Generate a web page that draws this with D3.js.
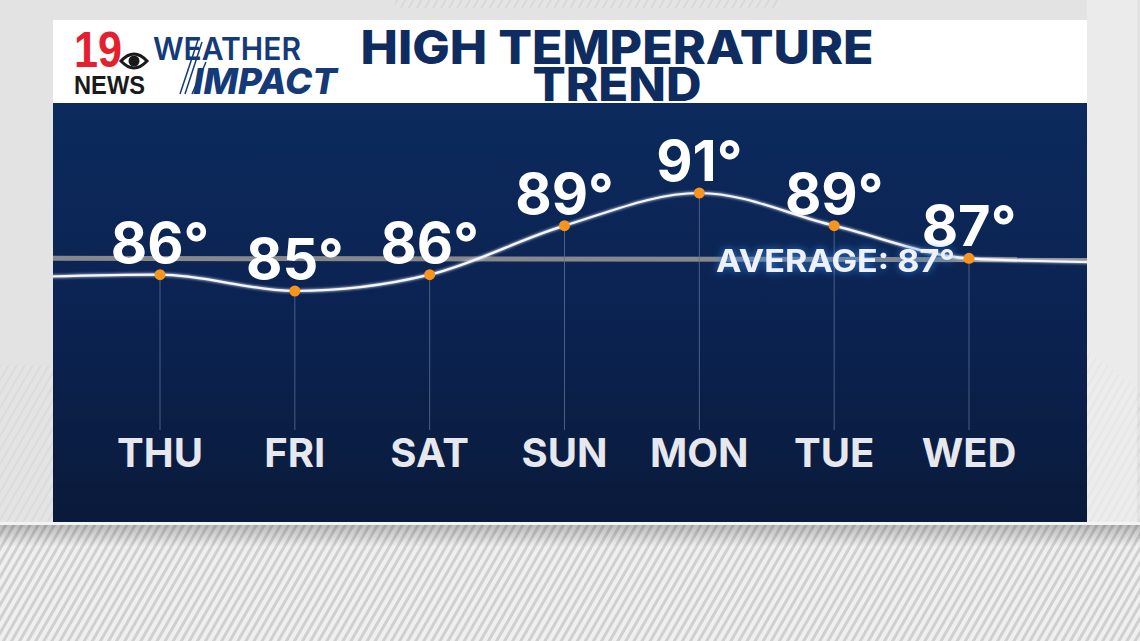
<!DOCTYPE html>
<meta charset="utf-8">
<style>
    body { margin: 0; background: #e3e3e3; }
    svg { display: block; }
    text { font-family: Inter, 'Open Sans', sans-serif; }
</style>
<svg width="1140" height="641"></svg>
<script src="https://d3js.org/d3.v7.min.js"></script>
<script>

    // chart data
    var days = ["THU", "FRI", "SAT", "SUN", "MON", "TUE", "WED"];
    var highs = [86, 85, 86, 89, 91, 89, 87];
    var average = 87;
    // where the trend line runs off the panel edges (degrees)
    var edgeTemps = [85.85, 86.75];
    var titleLines = ["HIGH TEMPERATURE", "TREND"];
    var titleWidths = [513, 169];

    var svg = d3.select("svg"),
        width = +svg.attr("width"),
        height = +svg.attr("height");

    var panel = { left: 53, right: 1087, top: 103, bottom: 522, headTop: 20 };

    var defs = svg.append("defs");

    var bg = defs.append("linearGradient").attr("id", "panelGrad")
        .attr("x1", 0).attr("y1", 0).attr("x2", 0).attr("y2", 1);
    bg.append("stop").attr("offset", "0%").attr("stop-color", "#0c2a5d");
    bg.append("stop").attr("offset", "55%").attr("stop-color", "#0b2250");
    bg.append("stop").attr("offset", "100%").attr("stop-color", "#0a1a3a");

    var stripes = defs.append("pattern").attr("id", "stripes")
        .attr("width", 7).attr("height", 7).attr("patternUnits", "userSpaceOnUse")
        .attr("patternTransform", "rotate(30)");
    stripes.append("rect").attr("width", 7).attr("height", 7).attr("fill", "#f0f0f0");
    stripes.append("rect").attr("width", 3).attr("height", 7).attr("fill", "#d0d0d0");

    var stripesLight = defs.append("pattern").attr("id", "stripesLight")
        .attr("width", 7).attr("height", 7).attr("patternUnits", "userSpaceOnUse")
        .attr("patternTransform", "rotate(30)");
    stripesLight.append("rect").attr("width", 7).attr("height", 7).attr("fill", "#e4e4e4");
    stripesLight.append("rect").attr("width", 2).attr("height", 7).attr("fill", "#d8d8d8");

    var shade = defs.append("linearGradient").attr("id", "shade")
        .attr("x1", 0).attr("y1", 0).attr("x2", 0).attr("y2", 1);
    shade.append("stop").attr("offset", "0%").attr("stop-color", "#000").attr("stop-opacity", 0.22);
    shade.append("stop").attr("offset", "100%").attr("stop-color", "#000").attr("stop-opacity", 0);

    var glow = defs.append("filter").attr("id", "glow")
        .attr("x", "-20%").attr("y", "-60%").attr("width", "140%").attr("height", "220%");
    glow.append("feGaussianBlur").attr("in", "SourceAlpha").attr("stdDeviation", 4).attr("result", "b");
    glow.append("feFlood").attr("flood-color", "#2f7fe0").attr("flood-opacity", 0.9);
    glow.append("feComposite").attr("in2", "b").attr("operator", "in").attr("result", "g");
    var gm = glow.append("feMerge");
    gm.append("feMergeNode").attr("in", "g");
    gm.append("feMergeNode").attr("in", "SourceGraphic");

    var softGlow = defs.append("filter").attr("id", "softGlow")
        .attr("x", "-5%").attr("y", "-50%").attr("width", "110%").attr("height", "200%");
    softGlow.append("feGaussianBlur").attr("in", "SourceGraphic").attr("stdDeviation", 1.5).attr("result", "b");
    var sm = softGlow.append("feMerge");
    sm.append("feMergeNode").attr("in", "b");
    sm.append("feMergeNode").attr("in", "SourceGraphic");

    // page background
    svg.append("rect").attr("width", width).attr("height", height).attr("fill", "#e3e3e3");
    svg.append("path").attr("d", "M1060,330 L1140,390 L1140,525 L1060,525 Z").attr("fill", "url(#stripesLight)");
    svg.append("path").attr("d", "M0,365 L60,365 L60,525 L0,525 Z").attr("fill", "url(#stripesLight)").attr("opacity", 0.6);
    svg.append("path").attr("d", "M395,0 L780,0 L780,8 L395,8 Z").attr("fill", "url(#stripesLight)");
    svg.append("rect").attr("y", 525).attr("width", width).attr("height", height - 525).attr("fill", "url(#stripes)");
    svg.append("rect").attr("y", 525).attr("width", width).attr("height", 22).attr("fill", "url(#shade)");
    svg.append("rect").attr("x", 0).attr("y", 522).attr("width", width).attr("height", 3).attr("fill", "#f3f3f3");
    svg.append("rect").attr("x", 1087).attr("y", 0).attr("width", 50).attr("height", 525).attr("fill", "#f2f2f2").attr("opacity", 0.55);

    // header + panel
    svg.append("rect").attr("x", panel.left).attr("y", panel.headTop)
        .attr("width", panel.right - panel.left).attr("height", panel.top - panel.headTop).attr("fill", "#fff");
    svg.append("rect").attr("x", panel.left).attr("y", panel.top)
        .attr("width", panel.right - panel.left).attr("height", panel.bottom - panel.top).attr("fill", "url(#panelGrad)");

    // title
    svg.append("g").selectAll("text").data(titleLines).enter().append("text")
        .attr("x", 617).attr("y", function (d, i) { return 64 + i * 37; })
        .attr("text-anchor", "middle")
        .attr("textLength", function (d, i) { return titleWidths[i]; })
        .attr("lengthAdjust", "spacingAndGlyphs")
        .style("font-size", "46px").style("font-weight", 800).style("fill", "#0e2c60")
        .text(function (d) { return d; });

    // logo
    var logo = svg.append("g");
    logo.append("text").attr("x", 74).attr("y", 67).attr("textLength", 48).attr("lengthAdjust", "spacingAndGlyphs")
        .style("font-family", "'Liberation Sans', Arial, sans-serif").style("font-weight", 700)
        .style("font-size", "50px").style("fill", "#e4202e").text("19");
    logo.append("path").attr("d", "M121,61 Q134,47 147,61 Q134,75 121,61 Z")
        .attr("fill", "#fff").attr("stroke", "#1a1a1a").attr("stroke-width", 3);
    logo.append("circle").attr("cx", 134).attr("cy", 61).attr("r", 5.5).attr("fill", "#1a1a1a");
    logo.append("text").attr("x", 74).attr("y", 94).attr("textLength", 71).attr("lengthAdjust", "spacingAndGlyphs")
        .style("font-family", "'Liberation Sans', Arial, sans-serif").style("font-weight", 700)
        .style("font-size", "25px").style("fill", "#1a1a1a").text("NEWS");
    logo.append("text").attr("x", 153).attr("y", 60).attr("textLength", 148).attr("lengthAdjust", "spacingAndGlyphs")
        .style("font-weight", 600).style("font-size", "31px").style("fill", "#143a78").text("WEATHER");
    logo.append("text").attr("x", 193).attr("y", 94).attr("textLength", 144).attr("lengthAdjust", "spacingAndGlyphs")
        .style("font-weight", 800).style("font-style", "italic").style("font-size", "36px").style("fill", "#143a78").text("IMPACT");
    logo.append("path").attr("d", "M198,40 L180,94 M202,42 L185,94 M206,62 L192,94")
        .attr("stroke", "#143a78").attr("stroke-width", 1.5).attr("fill", "none");

    // scales
    var x = d3.scalePoint().domain(days).range([160, 969]);
    var y = d3.scaleLinear().domain([85, 91]).range([291, 193]);
    var step = x.step();

    // average line
    svg.append("line")
        .attr("x1", panel.left).attr("x2", panel.right)
        .attr("y1", y(average)).attr("y2", y(average) + 1.5)
        .attr("stroke", "#86888c").attr("stroke-width", 5);

    // stems
    svg.append("g").selectAll("line").data(days).enter().append("line")
        .attr("x1", function (d) { return x(d); }).attr("x2", function (d) { return x(d); })
        .attr("y1", function (d, i) { return y(highs[i]); }).attr("y2", 430)
        .attr("stroke", "#5a6f93").attr("stroke-opacity", 0.8).attr("stroke-width", 1);

    // trend curve, running past panel edges
    var curvePts = [[x(days[0]) - step, edgeTemps[0]]]
        .concat(days.map(function (d, i) { return [x(d), highs[i]]; }))
        .concat([[x(days[days.length - 1]) + step, edgeTemps[1]]]);
    defs.append("clipPath").attr("id", "panelClip").append("rect")
        .attr("x", panel.left).attr("y", panel.top)
        .attr("width", panel.right - panel.left).attr("height", panel.bottom - panel.top);
    var line = d3.line()
        .x(function (d) { return d[0]; })
        .y(function (d) { return y(d[1]); })
        .curve(d3.curveMonotoneX);
    svg.append("path").datum(curvePts)
        .attr("clip-path", "url(#panelClip)")
        .attr("d", line).attr("fill", "none")
        .attr("stroke", "#f4f6fb").attr("stroke-width", 2.2)
        .attr("filter", "url(#softGlow)");

    // dots
    svg.append("g").selectAll("circle").data(days).enter().append("circle")
        .attr("cx", function (d) { return x(d); })
        .attr("cy", function (d, i) { return y(highs[i]); })
        .attr("r", 5.5).attr("fill", "#f7941d");

    // value labels
    svg.append("g").selectAll("text").data(days).enter().append("text")
        .attr("x", function (d) { return x(d); })
        .attr("y", function (d, i) { return y(highs[i]) - 12; })
        .attr("text-anchor", "middle")
        .style("font-size", "56px").style("font-weight", 700).style("fill", "#fff")
        .text(function (d, i) { return highs[i] + "°"; });

    // average label
    svg.append("text")
        .attr("x", 716).attr("y", y(average) + 14)
        .attr("textLength", 239).attr("lengthAdjust", "spacingAndGlyphs")
        .attr("filter", "url(#glow)")
        .style("font-size", "31px").style("font-weight", 700).style("fill", "#eef1f6")
        .text("AVERAGE: " + average + "°");

    // day labels
    svg.append("g").selectAll("text").data(days).enter().append("text")
        .attr("x", function (d) { return x(d); })
        .attr("y", 467)
        .attr("text-anchor", "middle")
        .style("font-size", "40px").style("font-weight", 700).style("fill", "#e6e8ee")
        .text(function (d) { return d; });

</script>
